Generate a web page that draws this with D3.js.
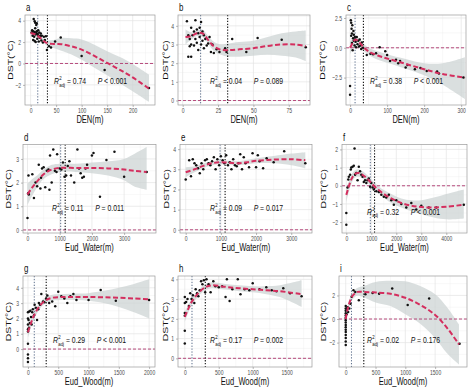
<!doctype html>
<html>
<head>
<meta charset="utf-8"/>
<style>
    html, body { margin: 0; padding: 0; background: #fff; }
    svg { display: block; font-family: "Liberation Sans", Arial, sans-serif; }
    .tick line { stroke: #8a8a8a; stroke-width: 0.6; }
    .tick text { fill: #4d4d4d; }
</style>
<script src="https://cdnjs.cloudflare.com/ajax/libs/d3/7.8.5/d3.min.js"></script>
</head>
<body>
<svg id="chart" width="474" height="388"></svg>
<script>

// ---------- data ----------
var letters = ["a", "b", "c", "d", "e", "f", "g", "h", "i"];
var xTitles = ["DEN(m)", "DEN(m)", "DEN(m)", "Eud_Water(m)", "Eud_Water(m)", "Eud_Water(m)",
               "Eud_Wood(m)", "Eud_Wood(m)", "Eud_Wood(m)"];
var r2Vals = ["0.74", "0.04", "0.38", "0.11", "0.09", "0.32", "0.29", "0.17", "0.02"];
var pVals = ["< 0.001", "= 0.089", "< 0.001", "= 0.011", "= 0.017", "< 0.001", "< 0.001", "= 0.002", "= 0.176"];

var xTicks = [[0, 50, 100, 150, 200], [0, 25, 50, 75], [0, 100, 200, 300],
              [0, 1000, 2000, 3000], [0, 1000, 2000, 3000], [0, 1000, 2000, 3000, 4000],
              [0, 500, 1000, 1500, 2000], [0, 500, 1000, 1500], [0, 500, 1000, 1500]];
var yTicks = [[-2, 0, 2, 4], [0, 1, 2, 3, 4], [-2.5, 0, 2.5],
              [0, 1, 2, 3], [0, 1, 2, 3, 4], [-2, -1, 0, 1, 2],
              [0, 1, 2, 3, 4], [0, 1, 2, 3, 4], [-2, 0, 2]];
var xDomains = [[-11, 243.7], [-3.3, 90], [-11, 313], [-140, 3990], [-162, 3590], [-172, 4828],
                [-82, 2097], [-100, 1873], [-113, 2035]];
var yDomains = [[-3.88, 4.53], [-0.24, 4.58], [-4.8, 2.75], [-0.13, 3.61], [-0.16, 4.23], [-2.6, 2.27],
                [-1.17, 4.77], [-0.44, 4.17], [-4.07, 3.65]];

// threshold lines (first: grey-blue dotted, second: black dotted)
var vlineA = [14, 12.7, 13.5, 1030, 977, 960, 104, 106, 96];
var vlineB = [33, 31.8, 36, 1170, 1120, 1130, 301, 302, 303];

// observations [x, DST]
var ptsA = [[2,2.9],[3,3.1],[4,2.6],[5,3.0],[5,2.2],[6,2.8],[6,4.15],[7,2.5],[8,2.95],[8,3.95],[8,2.1],
            [9,3.3],[9,3.8],[10,2.7],[10,2.0],[11,2.85],[11,3.6],[12,3.0],[12,3.75],[13,2.3],[14,2.75],
            [15,2.6],[15,3.1],[16,2.05],[17,2.9],[18,2.4],[19,2.6],[20,2.8],[21,2.15],[22,2.6],[24,1.95],
            [26,2.5],[28,2.2],[30,2.55],[32,1.25],[36,1.6],[40,1.5],[48,2.05],[59,2.43],[100,0.7],
            [145,-0.6],[232,-2.3]];
var ptsB = [[3,4.25],[4,3.5],[4,2.35],[5,2.9],[5,3.3],[6,3.0],[6,3.9],[6,2.35],[7,3.5],[8,3.7],[8,2.95],
            [9,4.3],[9,3.3],[10,3.8],[10,3.1],[11,3.6],[11,2.7],[12,3.9],[12,3.4],[13,3.0],[13,4.2],
            [14,3.7],[14,3.2],[15,2.8],[15,3.5],[16,3.3],[17,2.95],[18,3.05],[19,3.4],[20,2.6],[21,3.0],
            [22,2.55],[24,2.75],[26,2.6],[30,2.8],[31,2.6],[35,3.3],[45,2.6],[53,3.35],[70,3.25],[87,2.85]];
var ptsC = [[0,-3.2],[0,-3.95],[2,2.3],[3,2.1],[3,1.0],[4,1.6],[5,1.2],[5,0.4],[6,1.9],[7,-0.2],[8,0.8],
            [9,1.4],[10,0.6],[10,1.1],[12,0.2],[13,0.9],[14,0.7],[15,0.5],[16,0.05],[18,0.9],[20,0.3],
            [22,0.6],[24,0.1],[26,0.7],[28,0.2],[30,-0.1],[32,0.45],[35,0.0],[45,-0.6],[55,-0.5],
            [62,-0.55],[70,-0.45],[80,0.05],[95,-0.3],[100,-0.6],[108,-1.1],[124,-1.0],[130,-1.3],
            [135,-1.1],[150,-1.65],[155,-1.45],[175,-1.8],[190,-1.7],[207,-1.95],[235,-2.0],[240,-2.15],
            [306,-2.5]];
var ptsD = [[0,0.5],[20,1.55],[30,2.3],[40,1.5],[150,2.35],[200,1.35],[250,2.0],[300,1.85],[350,2.75],
            [400,1.75],[420,2.2],[450,2.6],[500,2.65],[550,1.8],[600,2.5],[650,2.55],[680,1.7],[700,3.15],
            [750,2.0],[800,3.4],[850,2.5],[900,2.45],[920,3.2],[1000,2.6],[1050,2.55],[1100,2.85],
            [1150,2.25],[1200,2.3],[1250,2.7],[1300,2.9],[1350,2.3],[1450,2.0],[1550,3.4],[1600,2.6],
            [1650,2.4],[1700,2.2],[1750,2.25],[1800,2.6],[1850,2.75],[2000,3.15],[2050,3.25],[2250,1.4],
            [2450,2.95],[2700,3.3],[3000,2.25],[3700,2.45]];
var ptsE = [[0,2.5],[100,3.45],[150,2.65],[200,3.5],[250,3.3],[300,3.2],[350,3.05],[400,2.8],[450,3.3],
            [500,3.0],[550,3.45],[600,3.5],[650,3.3],[700,3.2],[750,3.4],[800,3.6],[850,3.0],[900,3.5],
            [950,3.2],[1000,3.65],[1050,3.45],[1100,3.3],[1150,3.7],[1200,3.2],[1250,3.35],[1300,3.0],
            [1350,3.5],[1400,3.2],[1450,3.15],[1500,3.3],[1550,3.75],[1600,3.0],[1650,3.6],[1700,3.3],
            [1800,3.1],[1900,3.8],[2000,3.1],[2050,3.7],[2100,3.4],[2200,3.05],[2300,3.55],[2500,3.35],
            [2800,3.9],[3400,3.3]];
var ptsF = [[0,-1.5],[0,-2.15],[50,-0.1],[80,0.35],[100,0.5],[150,0.6],[180,0.9],[200,1.0],[250,1.05],
            [300,1.1],[330,2.05],[350,0.6],[400,0.7],[450,0.3],[500,1.05],[550,0.8],[600,0.6],[650,0.5],
            [700,0.2],[750,0.3],[800,0.15],[850,0.3],[900,0.4],[950,-0.05],[1000,0.15],[1050,-0.1],
            [1100,-0.2],[1200,-0.3],[1300,-0.35],[1400,-0.5],[1500,-0.6],[1600,-0.65],[1700,-0.5],
            [1800,-0.8],[1900,-1.05],[2000,-0.8],[2200,-1.0],[2400,-1.2],[2600,-0.95],[2800,-1.3],
            [3000,-1.1],[3300,-1.2],[3600,-1.2],[4700,-1.05]];
var ptsG = [[0,-0.85],[0,-0.6],[0,-0.35],[0,0.35],[0,1.15],[0,1.3],[0,1.6],[0,2.0],[0,2.4],[10,1.9],
            [15,1.4],[20,2.45],[30,1.7],[40,2.5],[50,2.1],[60,1.6],[70,2.4],[80,2.6],[100,2.2],[110,2.9],
            [130,2.7],[150,1.9],[170,2.6],[180,3.0],[200,2.9],[220,3.6],[250,3.1],[270,3.05],[300,3.3],
            [320,3.5],[350,3.0],[400,3.1],[450,2.8],[500,3.75],[550,3.45],[600,3.3],[650,3.0],[700,3.45],
            [750,3.6],[800,3.2],[1000,3.2],[1200,3.85],[1450,3.15],[2000,3.2]];
var ptsH = [[0,0.75],[0,1.4],[0,2.15],[0,2.3],[0,2.8],[0,3.1],[20,2.85],[40,3.0],[60,2.65],[80,3.3],
            [100,3.0],[120,3.2],[140,2.8],[160,3.5],[180,3.3],[200,3.15],[220,3.45],[240,3.9],[260,3.75],
            [280,3.95],[300,3.35],[320,4.0],[350,3.75],[380,3.35],[420,3.9],[450,3.65],[500,3.6],
            [550,3.65],[600,3.1],[620,4.0],[660,2.9],[700,3.5],[780,4.0],[820,3.25],[880,3.5],[950,3.45],
            [1000,3.8],[1100,3.5],[1200,3.6],[1280,3.45],[1350,3.4],[1450,3.55],[1550,3.3],[1720,3.15]];
var ptsI = [[0,-2.2],[0,-1.9],[0,-1.6],[0,-1.35],[0,-1.1],[0,-0.9],[0,-0.7],[0,-0.5],[0,-0.3],[0,-0.1],
            [0,0.1],[0,0.3],[0,0.5],[0,0.7],[0,0.9],[0,1.1],[15,0.4],[20,0.8],[30,1.0],[40,0.6],[60,0.9],
            [80,1.3],[100,1.9],[130,2.45],[160,2.3],[220,1.6],[330,2.1],[450,2.2],[560,2.15],[780,2.6],
            [1040,1.2],[1400,1.75],[1910,-2.1]];

// smoother [x, fit, lower, upper]
var fitA = [[0,2.85,2.55,3.15],[10,2.7,2.5,2.9],[20,2.35,2.15,2.55],[30,1.95,1.72,2.18],[45,1.82,1.45,2.2],
            [60,1.8,1.2,2.4],[80,1.6,0.85,2.35],[100,1.3,0.35,2.25],[125,0.7,-0.4,1.75],[150,0.05,-1.1,1.15],
            [175,-0.6,-1.85,0.6],[200,-1.3,-2.6,-0.05],[232,-2.35,-3.6,-1.05]];
var fitB = [[2,3.4,3.0,3.8],[6,3.45,3.25,3.65],[10,3.6,3.45,3.75],[14,3.6,3.4,3.8],[18,3.25,3.05,3.45],
            [22,2.9,2.65,3.15],[27,2.72,2.45,3.0],[32,2.7,2.35,3.05],[40,2.74,2.35,3.13],[50,2.8,2.4,3.2],
            [60,2.92,2.45,3.4],[70,3.0,2.4,3.6],[80,3.0,2.3,3.7],[87,2.92,2.1,3.75]];
var fitC = [[0,0.0,-0.55,0.55],[8,0.45,0.05,0.85],[15,0.7,0.4,1.0],[25,0.45,0.15,0.75],[35,0.1,-0.2,0.4],
            [50,-0.3,-0.6,0.0],[75,-0.65,-1.0,-0.3],[100,-0.9,-1.25,-0.55],[150,-1.35,-1.75,-0.95],
            [200,-1.8,-2.3,-1.3],[250,-2.2,-3.1,-1.3],[310,-2.5,-4.3,-0.8]];
var fitD = [[0,1.5,1.05,1.95],[150,1.8,1.45,2.15],[300,2.05,1.8,2.3],[500,2.35,2.15,2.55],[750,2.55,2.35,2.75],
            [1000,2.62,2.45,2.8],[1500,2.62,2.45,2.8],[2000,2.62,2.4,2.85],[2500,2.6,2.3,2.9],
            [3000,2.55,2.1,3.0],[3300,2.5,1.85,3.2],[3700,2.45,1.7,3.5]];
var fitE = [[0,2.85,2.6,3.1],[250,3.0,2.85,3.15],[500,3.17,3.05,3.3],[750,3.3,3.2,3.4],[1000,3.35,3.25,3.45],
            [1250,3.32,3.22,3.42],[1500,3.3,3.2,3.4],[1750,3.35,3.25,3.47],[2000,3.42,3.3,3.55],
            [2500,3.48,3.3,3.66],[3000,3.5,3.2,3.78],[3400,3.45,3.05,3.85]];
var fitF = [[0,-0.5,-0.9,-0.1],[100,-0.05,-0.35,0.25],[200,0.35,0.1,0.6],[350,0.65,0.45,0.85],
            [500,0.7,0.5,0.9],[700,0.55,0.35,0.75],[900,0.3,0.1,0.5],[1100,0.0,-0.2,0.2],
            [1400,-0.35,-0.55,-0.15],[1800,-0.7,-0.95,-0.45],[2200,-0.95,-1.2,-0.7],[2600,-1.1,-1.4,-0.8],
            [3000,-1.17,-1.55,-0.8],[3500,-1.2,-1.75,-0.65],[4000,-1.15,-1.85,-0.45],[4700,-1.05,-1.8,-0.2]];
var fitG = [[0,1.1,0.75,1.45],[50,1.7,1.4,2.0],[100,2.2,1.95,2.45],[200,2.85,2.65,3.05],[300,3.2,3.0,3.4],
            [400,3.35,3.15,3.55],[600,3.4,3.2,3.6],[800,3.4,3.2,3.62],[1000,3.4,3.15,3.65],
            [1250,3.38,3.0,3.8],[1500,3.35,2.75,4.0],[1750,3.3,2.4,4.25],[2000,3.25,2.0,4.55]];
var fitH = [[0,2.1,1.85,2.35],[50,2.5,2.3,2.7],[100,2.85,2.68,3.02],[200,3.3,3.15,3.45],[300,3.6,3.45,3.75],
            [400,3.7,3.55,3.85],[600,3.62,3.48,3.76],[800,3.55,3.4,3.7],[1000,3.5,3.35,3.65],
            [1200,3.45,3.25,3.65],[1400,3.4,3.1,3.7],[1720,3.25,2.6,3.95]];
var fitI = [[0,0.0,-0.35,0.35],[30,0.8,0.5,1.1],[70,1.5,1.2,1.8],[120,2.0,1.7,2.3],[200,2.3,2.0,2.65],
            [300,2.3,1.85,2.8],[500,2.25,1.4,3.15],[750,2.15,1.1,3.25],[1000,1.8,0.4,3.2],
            [1250,1.2,-0.4,2.8],[1500,0.35,-1.6,2.1],[1700,-0.75,-2.9,1.0],[1900,-2.15,-3.85,-0.45]];

var pointSets = [ptsA, ptsB, ptsC, ptsD, ptsE, ptsF, ptsG, ptsH, ptsI];
var fitSets = [fitA, fitB, fitC, fitD, fitE, fitF, fitG, fitH, fitI];

// ---------- layout ----------
var SX = 0.72;   // the figure is squeezed horizontally, text too
var lefts = [25, 178, 346, 23, 180, 342, 23, 178, 339];
var rights = [155, 310, 466, 156, 312, 467, 155, 312, 467];
var tops = [15, 144.5, 276];
var bottoms = [105, 233, 367];
var yTitleX = [10, 165, 322, 8, 166, 323, 8, 165, 323];
var annotDx = [29, 32, 24, 29, 30, 25, 30, 32, 28];
var annotDy = [69, 69, 69, 66.5, 66.5, 70, 67, 67, 67];

var svg = d3.select("#chart");
svg.append("rect").attr("width", 474).attr("height", 388).attr("fill", "#fff");

function minorTicks(t, dom) {
    var step = t[1] - t[0], out = [];
    for (var v = t[0] - step / 2; v <= dom[1]; v += step) {
        if (v >= dom[0]) out.push(v);
    }
    return out;
}

function label(parent, x, y, s, size, anchor) {
    return parent.append("text")
        .attr("transform", "translate(" + x + "," + y + ") scale(" + SX + ",1)")
        .attr("font-size", size)
        .attr("text-anchor", anchor || "start")
        .attr("fill", "#111")
        .text(s);
}

function annotate(parent, x, y, r2, p) {
    var g = parent.append("g")
        .attr("transform", "translate(" + x + "," + y + ") scale(" + SX + ",1)")
        .attr("fill", "#111");
    var fs = 9.5;
    var R = g.append("text").attr("font-size", fs).attr("font-style", "italic").text("R");
    var cx = R.node().getComputedTextLength() + 0.5;
    g.append("text").attr("x", cx).attr("y", -3.8).attr("font-size", 6).text("2");
    var adj = g.append("text").attr("x", cx).attr("y", 2.8).attr("font-size", 6).text("adj");
    cx += adj.node().getComputedTextLength();
    var eq = g.append("text").attr("x", cx).attr("font-size", fs).style("white-space", "pre").text(" = " + r2);
    cx += eq.node().getComputedTextLength() + 16;
    var P = g.append("text").attr("x", cx).attr("font-size", fs).attr("font-style", "italic").text("P");
    cx += P.node().getComputedTextLength();
    g.append("text").attr("x", cx).attr("font-size", fs).style("white-space", "pre").text(" " + p);
}

letters.forEach(function(letter, i) {
    var row = Math.floor(i / 3);
    var x0 = lefts[i], x1 = rights[i], y0 = tops[row], y1 = bottoms[row];
    var x = d3.scaleLinear().domain(xDomains[i]).range([x0, x1]);
    var y = d3.scaleLinear().domain(yDomains[i]).range([y1, y0]);
    var g = svg.append("g");

    g.append("clipPath").attr("id", "clip" + i)
        .append("rect").attr("x", x0).attr("y", y0).attr("width", x1 - x0).attr("height", y1 - y0);

    // grid
    var grid = g.append("g");
    minorTicks(xTicks[i], xDomains[i]).forEach(function(v) {
        grid.append("line").attr("x1", x(v)).attr("x2", x(v)).attr("y1", y0).attr("y2", y1)
            .attr("stroke", "#eeeeee").attr("stroke-width", 0.4);
    });
    minorTicks(yTicks[i], yDomains[i]).forEach(function(v) {
        grid.append("line").attr("y1", y(v)).attr("y2", y(v)).attr("x1", x0).attr("x2", x1)
            .attr("stroke", "#eeeeee").attr("stroke-width", 0.4);
    });
    xTicks[i].forEach(function(v) {
        grid.append("line").attr("x1", x(v)).attr("x2", x(v)).attr("y1", y0).attr("y2", y1)
            .attr("stroke", "#e4e4e4").attr("stroke-width", 0.7);
    });
    yTicks[i].forEach(function(v) {
        grid.append("line").attr("y1", y(v)).attr("y2", y(v)).attr("x1", x0).attr("x2", x1)
            .attr("stroke", "#e4e4e4").attr("stroke-width", 0.7);
    });

    var inner = g.append("g").attr("clip-path", "url(#clip" + i + ")");
    var fit = fitSets[i];

    inner.append("path")
        .datum(fit)
        .attr("fill", "#cbd2d2")
        .attr("fill-opacity", 0.7)
        .attr("d", d3.area().curve(d3.curveCatmullRom)
            .x(function(d) { return x(d[0]); })
            .y0(function(d) { return y(d[2]); })
            .y1(function(d) { return y(d[3]); }));

    // reference lines
    inner.append("line").attr("x1", x0).attr("x2", x1).attr("y1", y(0)).attr("y2", y(0))
        .attr("stroke", "#b0386f").attr("stroke-width", 0.9).attr("stroke-dasharray", "3,2");
    inner.append("line").attr("x1", x(vlineA[i])).attr("x2", x(vlineA[i])).attr("y1", y0).attr("y2", y1)
        .attr("stroke", "#5d6f8c").attr("stroke-width", 1).attr("stroke-dasharray", "1.3,1.6");
    inner.append("line").attr("x1", x(vlineB[i])).attr("x2", x(vlineB[i])).attr("y1", y0).attr("y2", y1)
        .attr("stroke", "#111").attr("stroke-width", 1.1).attr("stroke-dasharray", "1.3,1.6");

    inner.selectAll("circle.pt").data(pointSets[i]).enter().append("circle")
        .attr("class", "pt")
        .attr("cx", function(d) { return x(d[0]); })
        .attr("cy", function(d) { return y(d[1]); })
        .attr("r", 1.25)
        .attr("fill", "#111");

    inner.append("path")
        .datum(fit)
        .attr("fill", "none")
        .attr("stroke", "#d42e5e")
        .attr("stroke-width", 2)
        .attr("stroke-dasharray", "5,2.5")
        .attr("d", d3.line().curve(d3.curveCatmullRom)
            .x(function(d) { return x(d[0]); })
            .y(function(d) { return y(d[1]); }));

    // border
    g.append("rect").attr("x", x0).attr("y", y0).attr("width", x1 - x0).attr("height", y1 - y0)
        .attr("fill", "none").attr("stroke", "#9a9a9a").attr("stroke-width", 0.7);

    // axes
    var fmtY = (i === 2) ? d3.format(".1f") : d3.format("d");
    var ax = g.append("g").attr("transform", "translate(0," + y1 + ")")
        .call(d3.axisBottom(x).tickValues(xTicks[i]).tickFormat(d3.format("d"))
            .tickSize(2).tickSizeOuter(0).tickPadding(1));
    ax.select(".domain").remove();
    ax.selectAll("text").attr("font-size", 7).attr("transform", "scale(" + SX + ",1)");

    var ay = g.append("g").attr("transform", "translate(" + x0 + ",0)")
        .call(d3.axisLeft(y).tickValues(yTicks[i]).tickFormat(fmtY).tickSize(2).tickSizeOuter(0));
    ay.select(".domain").remove();
    ay.selectAll("text").attr("font-size", 7).attr("x", -4 / SX).attr("transform", "scale(" + SX + ",1)");

    // titles
    label(g, (x0 + x1) / 2, y1 + 17.5, xTitles[i], 10.5, "middle");
    g.append("text")
        .attr("transform", "translate(" + yTitleX[i] + "," + ((y0 + y1) / 2) + ") rotate(-90) scale(1," + SX + ")")
        .attr("font-size", 10.5).attr("text-anchor", "middle").attr("dy", "0.35em")
        .attr("fill", "#111").text("DST(°C)");
    label(g, x0 + 1, y0 - 4, letter, 11, "start");

    annotate(g, x0 + annotDx[i], y0 + annotDy[i], r2Vals[i], pVals[i]);
});

</script>
</body>
</html>
